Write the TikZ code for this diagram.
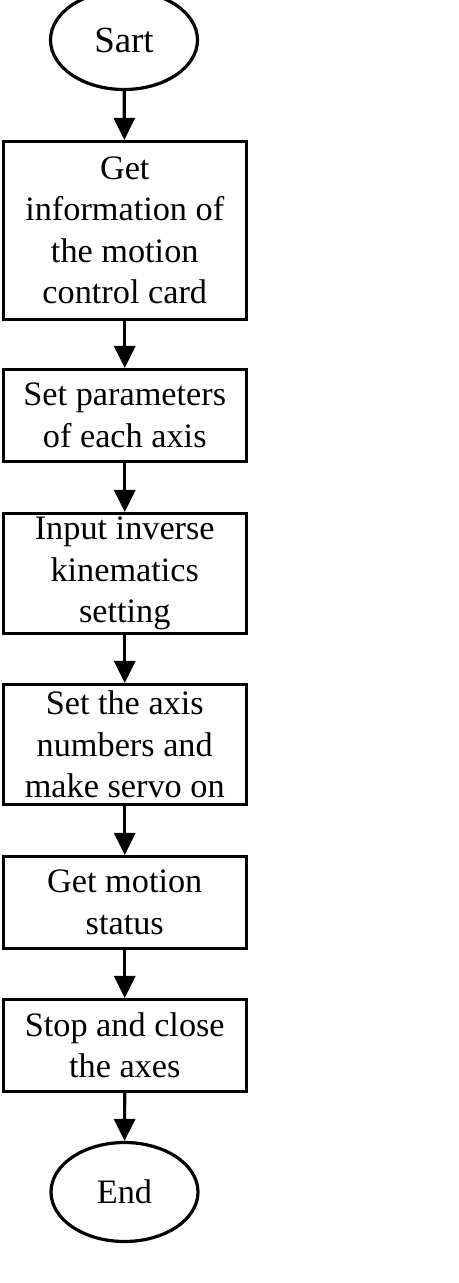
\documentclass[tikz,border=0pt]{standalone}
\usepackage{fontspec}
\setmainfont{Liberation Serif}
\usetikzlibrary{arrows.meta,shapes.geometric}
\begin{document}
\begin{tikzpicture}[x=0.75pt,y=-0.75pt,
  box/.style={draw, line width=2.4pt, rectangle, minimum width=182.25pt, inner sep=0pt, align=center, font=\fontsize{25.7}{31.1}\selectfont},
  term/.style={draw, line width=2.4pt, ellipse, minimum width=110.25pt, minimum height=74.25pt, inner sep=0pt},
  arr/.style={line width=2.4pt, -{Triangle[width=15.75pt,length=16.5pt]}}]
\useasboundingbox (0,0) rectangle (459,1283);
\node[term, font=\fontsize{27.7}{33}\selectfont] (start) at (124,40) {Sart};
\node[box, minimum height=133.5pt] (b1) at (124.75,230.5) {Get\\information of\\the motion\\control card};
\node[box, minimum height=69pt] (b2) at (124.75,415.5) {Set parameters\\of each axis};
\node[box, minimum height=90pt] (b3) at (124.75,573.5) {Input inverse\\kinematics\\setting};
\node[box, minimum height=90pt] (b4) at (124.75,744.5) {Set the axis\\numbers and\\make servo on};
\node[box, minimum height=69pt] (b5) at (124.75,902.5) {Get motion\\status};
\node[box, minimum height=69pt] (b6) at (124.75,1045.5) {Stop and close\\the axes};
\node[term, font=\fontsize{25.7}{31.1}\selectfont] (end) at (124.5,1192) {End};
\draw[arr] (start) -- (b1);
\draw[arr] (b1) -- (b2);
\draw[arr] (b2) -- (b3);
\draw[arr] (b3) -- (b4);
\draw[arr] (b4) -- (b5);
\draw[arr] (b5) -- (b6);
\draw[arr] (b6) -- (end);
\end{tikzpicture}
\end{document}
